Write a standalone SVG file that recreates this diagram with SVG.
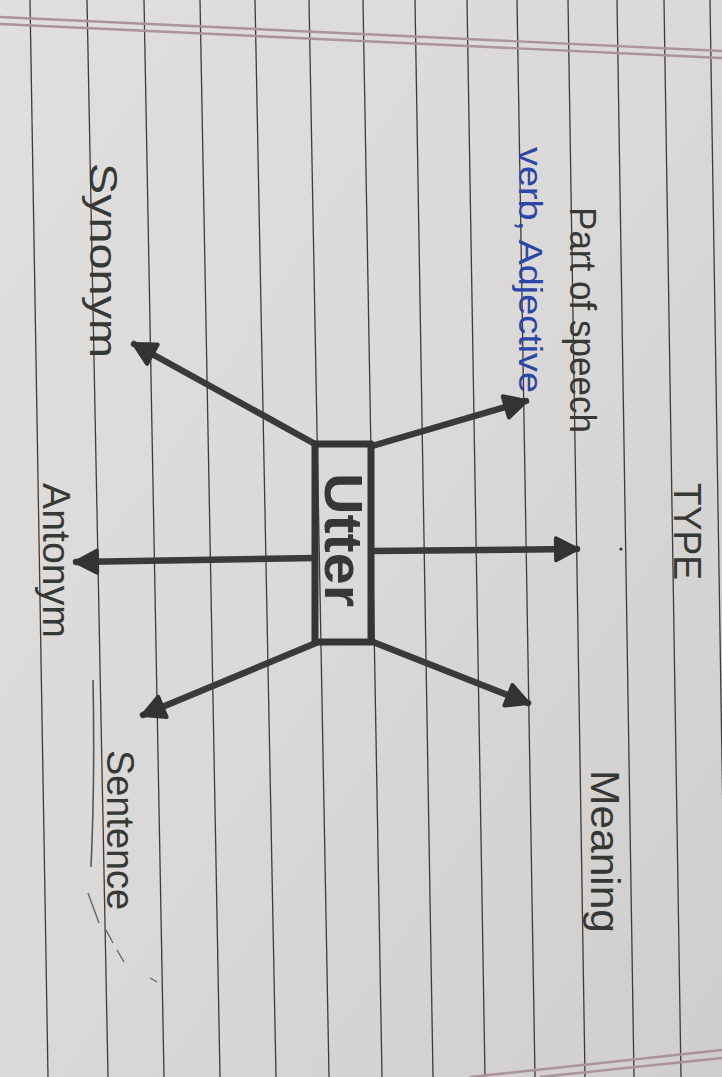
<svg xmlns="http://www.w3.org/2000/svg" width="722" height="1077" viewBox="0 0 722 1077">
<defs>
<linearGradient id="paper" x1="0" y1="0" x2="1" y2="1">
<stop offset="0" stop-color="#e0dfdd"/>
<stop offset="0.5" stop-color="#dad9d7"/>
<stop offset="1" stop-color="#cfcecc"/>
</linearGradient>
<marker id="ah" markerUnits="userSpaceOnUse" viewBox="0 0 28 28" markerWidth="28" markerHeight="28" refX="25" refY="14" orient="auto">
<path d="M4,3 L25,14 L4,25 Z" fill="#333333" stroke="#333333" stroke-width="4" stroke-linejoin="round"/>
</marker>
</defs>
<style>
.rule{stroke:#3c3c3c;stroke-width:1.3;fill:none}
.pink{stroke:#ac929c;stroke-width:2.4;fill:none}
.conn{stroke:#3a3a3a;stroke-width:6.5;fill:none;stroke-linecap:round;marker-end:url(#ah)}
.hand{font-family:"Liberation Sans","DejaVu Sans",sans-serif;fill:#363835}
.blue{fill:#2c45a6}
.box{fill:none;stroke:#353535;stroke-width:7;stroke-linejoin:round}
</style>
<rect x="0" y="0" width="722" height="1077" fill="url(#paper)"/>
<g id="ruled-lines">
<line class="rule" x1="30" y1="0" x2="48" y2="1077"/>
<line class="rule" x1="87" y1="0" x2="108" y2="1077"/>
<line class="rule" x1="144" y1="0" x2="164" y2="1077"/>
<line class="rule" x1="200" y1="0" x2="220" y2="1077"/>
<line class="rule" x1="255" y1="0" x2="276" y2="1077"/>
<line class="rule" x1="309" y1="0" x2="329" y2="1077"/>
<line class="rule" x1="363" y1="0" x2="382" y2="1077"/>
<line class="rule" x1="415" y1="0" x2="433" y2="1077"/>
<line class="rule" x1="467" y1="0" x2="485" y2="1077"/>
<line class="rule" x1="517" y1="0" x2="535" y2="1077"/>
<line class="rule" x1="568" y1="0" x2="585" y2="1077"/>
<line class="rule" x1="617" y1="0" x2="634" y2="1077"/>
<line class="rule" x1="664" y1="0" x2="681" y2="1077"/>
<line class="rule" x1="710" y1="0" x2="727" y2="1077"/>
<line class="pink" x1="0" y1="17" x2="722" y2="51"/>
<line class="pink" x1="0" y1="24" x2="722" y2="58"/>
<line class="pink" x1="470" y1="1077" x2="722" y2="1050"/>
<line class="pink" x1="540" y1="1077" x2="722" y2="1058"/>
</g>
<g id="connectors">
<line class="conn" x1="315" y1="444" x2="134" y2="344"/>
<line class="conn" x1="372" y1="446" x2="526" y2="401"/>
<line class="conn" x1="315" y1="558" x2="76" y2="562"/>
<line class="conn" x1="373" y1="551" x2="577" y2="549"/>
<line class="conn" x1="316" y1="643" x2="143" y2="715"/>
<line class="conn" x1="373" y1="642" x2="528" y2="703"/>
</g>
<g id="node-utter">
<rect class="box" x="315" y="444" width="56" height="198"/>
<text class="hand" font-weight="bold" font-size="54" fill="#333" transform="translate(325,473) rotate(90)" textLength="134" lengthAdjust="spacingAndGlyphs">Utter</text>
</g>
<g id="node-type">
<text class="hand" font-size="38" transform="translate(674,483) rotate(90)" textLength="97" lengthAdjust="spacingAndGlyphs">TYPE</text>
<circle cx="621" cy="549" r="1.6" fill="#333"/>
</g>
<g id="node-meaning">
<text class="hand" font-size="40" transform="translate(591,770) rotate(90)" textLength="163" lengthAdjust="spacingAndGlyphs">Meaning</text>
</g>
<g id="node-part-of-speech">
<text class="hand" font-size="36" transform="translate(570,207) rotate(90)" textLength="226" lengthAdjust="spacingAndGlyphs">Part of speech</text>
<text class="hand blue" font-size="34" transform="translate(519,147) rotate(90)" textLength="246" lengthAdjust="spacingAndGlyphs">verb, Adjective</text>
</g>
<g id="node-synonym">
<text class="hand" font-size="38" transform="translate(90,163) rotate(90)" textLength="195" lengthAdjust="spacingAndGlyphs">Synonym</text>
</g>
<g id="node-antonym">
<text class="hand" font-size="38" transform="translate(43,483) rotate(90)" textLength="155" lengthAdjust="spacingAndGlyphs">Antonym</text>
</g>
<g id="node-sentence">
<text class="hand" font-size="38" transform="translate(107,750) rotate(90)" textLength="160" lengthAdjust="spacingAndGlyphs">Sentence</text>
<path d="M93,680 Q95,780 91,867" fill="none" stroke="#555" stroke-width="1.6"/>
<path d="M88,893 L99,923 M106,930 L113,943 M117,950 L124,962 M150,978 L157,982" fill="none" stroke="#666" stroke-width="1.4"/>
</g>
</svg>
